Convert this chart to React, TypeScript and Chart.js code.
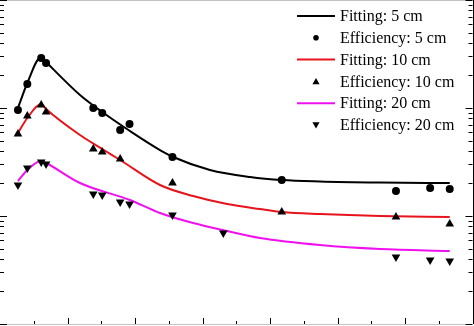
import React, { useEffect, useRef } from "react";
import { Chart, registerables } from "chart.js";

Chart.register(...registerables);

// Measured efficiency points (energy in keV)
const energies5 = [53.2, 81.0, 122.1, 136.5, 276.4, 302.9, 356.0, 383.8, 511.0, 834.8, 1173.2, 1274.5, 1332.5];
const eff5 = [0.0958, 0.1668, 0.2904, 0.261, 0.1, 0.0899, 0.0626, 0.0711, 0.0352, 0.0215, 0.01704, 0.01817, 0.01778];
const energies10 = [53.2, 81.0, 122.1, 136.5, 276.4, 302.9, 356.0, 511.0, 834.8, 1173.2, 1332.5];
const eff10 = [0.0574, 0.0843, 0.1066, 0.0918, 0.0417, 0.0391, 0.0337, 0.0202, 0.01089, 0.00979, 0.00843];
const energies20 = [53.2, 81.0, 122.1, 136.5, 276.4, 302.9, 356.0, 383.8, 511.0, 661.7, 1173.2, 1274.5, 1332.5];
const eff20 = [0.01936, 0.02782, 0.03162, 0.03031, 0.01598, 0.01565, 0.01348, 0.01292, 0.01022, 0.00696, 0.00417, 0.00391, 0.00383];

// Fitted curves
const fitE5 = [53.2, 81, 122, 136.5, 237, 302.9, 385, 474, 513, 622, 741, 836, 948, 1126, 1332.5];
const fit5 = [0.1, 0.1704, 0.2966, 0.2666, 0.1319, 0.0918, 0.0612, 0.0408, 0.0352, 0.0267, 0.02297, 0.0215, 0.02087, 0.02042, 0.0202];
const fitE10 = [53.2, 81, 122, 136.5, 237, 302.9, 356, 474, 572, 673, 770, 836, 948, 1126, 1332.5];
const fit10 = [0.0587, 0.0808, 0.1089, 0.0979, 0.0562, 0.0417, 0.033, 0.01936, 0.01532, 0.01292, 0.01161, 0.01089, 0.01043, 0.01, 0.00979];
const fitE20 = [53.2, 81, 122, 136.5, 237, 385, 474, 572, 673, 770, 948, 1126, 1332.5];
const fit20 = [0.0211, 0.02667, 0.0323, 0.03095, 0.0202, 0.01406, 0.01066, 0.00861, 0.00726, 0.00626, 0.00539, 0.00495, 0.00474];

const legendLabels = [
  "Fitting: 5 cm",
  "Efficiency: 5 cm",
  "Fitting: 10 cm",
  "Efficiency: 10 cm",
  "Fitting: 20 cm",
  "Efficiency: 20 cm",
];

const xMin = 0;
const xMax = 1400;
const yMin = 0.001;
const yMax = 1;

const BLACK = "#000000";
const RED = "#e8141c";
const MAGENTA = "#f010f0";

const zip = (xs: number[], ys: number[]) => xs.map((x, i) => ({ x, y: ys[i] }));

const axesPlugin = {
  id: "framedAxes",
  afterDraw(chart: any) {
    const ctx = chart.ctx;
    const xs = chart.scales.x;
    const ys = chart.scales.y;
    const { left, right, top, bottom } = chart.chartArea;
    ctx.save();
    // frame
    ctx.lineWidth = 1;
    ctx.strokeStyle = "#c4c4c4";
    ctx.beginPath();
    ctx.moveTo(left, top + 0.5);
    ctx.lineTo(right, top + 0.5);
    ctx.moveTo(left, bottom + 0.5);
    ctx.lineTo(right, bottom + 0.5);
    ctx.stroke();
    ctx.strokeStyle = "#000";
    ctx.beginPath();
    ctx.moveTo(Math.round(right) + 0.5, top);
    ctx.lineTo(Math.round(right) + 0.5, bottom);
    ctx.stroke();
    // x ticks (inward)
    ctx.beginPath();
    for (let v = xMin + 100; v < xMax; v += 100) {
      const px = Math.round(xs.getPixelForValue(v)) + 0.5;
      const len = v % 200 === 0 ? 6 : 3;
      ctx.moveTo(px, bottom);
      ctx.lineTo(px, bottom - len);
    }
    // y ticks (inward, both sides)
    for (let e = -3; e <= 0; e++) {
      for (let m = 1; m <= 9; m++) {
        const v = m * Math.pow(10, e);
        if (v > yMax + 1e-9 || v < yMin - 1e-12) continue;
        const py = Math.round(ys.getPixelForValue(v)) + 0.5;
        const len = m === 1 ? 7 : 4;
        ctx.moveTo(left, py);
        ctx.lineTo(left + len, py);
        ctx.moveTo(right, py);
        ctx.lineTo(right - len, py);
      }
    }
    ctx.stroke();

    // legend
    const lx0 = 297;
    const lx1 = 335;
    const mx = 316;
    const tx = 340;
    const rowY = (i: number) => 16 + i * 21.8;
    ctx.font = "16px 'Liberation Serif'";
    ctx.textBaseline = "middle";
    ctx.textAlign = "left";
    legendLabels.forEach((label, i) => {
      const y = rowY(i);
      const ds = chart.data.datasets[i];
      if (i % 2 === 0) {
        ctx.strokeStyle = ds.borderColor;
        ctx.lineWidth = 2;
        ctx.beginPath();
        ctx.moveTo(lx0, y);
        ctx.lineTo(lx1, y);
        ctx.stroke();
      } else {
        ctx.fillStyle = "#000";
        ctx.beginPath();
        if (i === 1) {
          ctx.arc(mx, y, 2.8, 0, Math.PI * 2);
        } else if (i === 3) {
          ctx.moveTo(mx, y - 3.5);
          ctx.lineTo(mx + 3.6, y + 2.8);
          ctx.lineTo(mx - 3.6, y + 2.8);
          ctx.closePath();
        } else {
          ctx.moveTo(mx, y + 3.5);
          ctx.lineTo(mx + 3.6, y - 2.8);
          ctx.lineTo(mx - 3.6, y - 2.8);
          ctx.closePath();
        }
        ctx.fill();
      }
      ctx.fillStyle = "#000";
      ctx.fillText(label, tx, y + 1);
    });
    ctx.restore();
  },
};

export default function App() {
  const canvasRef = useRef<HTMLCanvasElement | null>(null);

  useEffect(() => {
    document.body.style.margin = "0";
    const canvas = canvasRef.current;
    if (!canvas) return;
    const lineDs = (label: string, xs: number[], ys: number[], color: string) => ({
      type: "line" as const,
      label,
      data: zip(xs, ys),
      borderColor: color,
      backgroundColor: color,
      borderWidth: 2,
      pointRadius: 0,
      showLine: true,
      fill: false,
      cubicInterpolationMode: "monotone" as const,
      order: 2,
    });
    const pointDs = (label: string, xs: number[], ys: number[], style: string, radius: number, rotation: number) => ({
      type: "scatter" as const,
      label,
      data: zip(xs, ys),
      borderColor: "#000",
      backgroundColor: "#000",
      pointStyle: style,
      pointRadius: radius,
      pointRotation: rotation,
      borderWidth: 0,
      showLine: false,
      order: 1,
    });
    const chart = new Chart(canvas, {
      type: "scatter",
      data: {
        datasets: [
          lineDs(legendLabels[0], fitE5, fit5, BLACK),
          pointDs(legendLabels[1], energies5, eff5, "circle", 4, 0),
          lineDs(legendLabels[2], fitE10, fit10, RED),
          pointDs(legendLabels[3], energies10, eff10, "triangle", 5, 0),
          lineDs(legendLabels[4], fitE20, fit20, MAGENTA),
          pointDs(legendLabels[5], energies20, eff20, "triangle", 5, 180),
        ] as any,
      },
      plugins: [axesPlugin],
      options: {
        animation: false,
        responsive: false,
        devicePixelRatio: 1,
        layout: { autoPadding: false, padding: { left: 0, top: 0, right: 1.5, bottom: 2 } },
        plugins: { legend: { display: false }, tooltip: { enabled: false } },
        scales: {
          x: { type: "linear", min: xMin, max: xMax, display: false },
          y: { type: "logarithmic", min: yMin, max: yMax, display: false },
        },
      },
    });
    return () => chart.destroy();
  }, []);

  return (
    <div style={{ position: "absolute", left: 0, top: 0, width: 474, height: 326, background: "#fff" }}>
      <canvas ref={canvasRef} width={474} height={326} style={{ width: 474, height: 326, display: "block" }} />
    </div>
  );
}
